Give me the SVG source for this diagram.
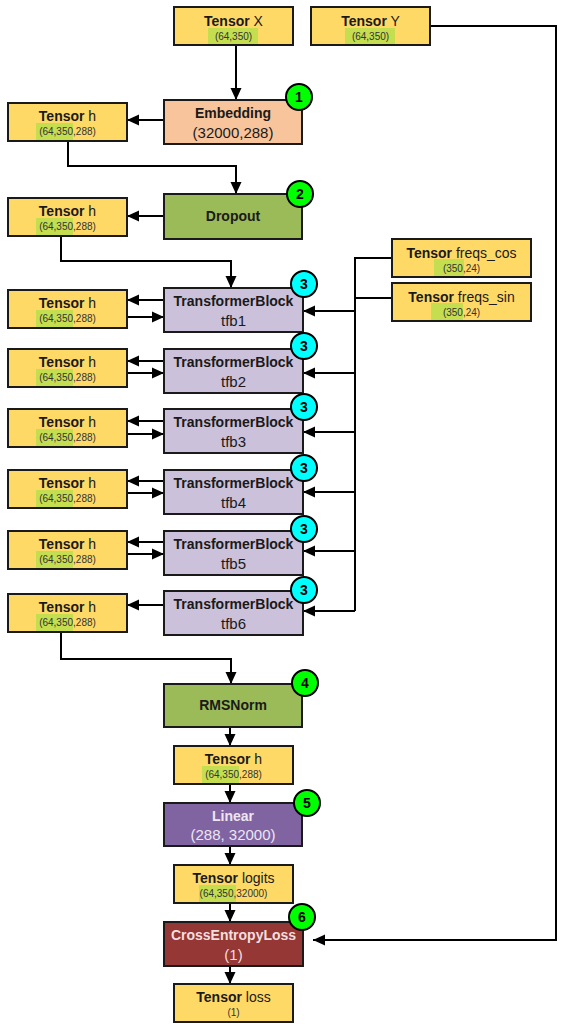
<svg xmlns="http://www.w3.org/2000/svg" width="566" height="1024" viewBox="0 0 566 1024">
<style>
.bg{fill:#fff}
.box{stroke:#1a1a1a;stroke-width:2}
.ten{fill:#FFD966}
.hl{fill:#C4DE4F}
.emb{fill:#F8C49C}
.grn{fill:#9BBB59}
.tb{fill:#CCC1DA}
.lin{fill:#8064A2}
.ce{fill:#953735}
text{font-family:"Liberation Sans",Arial,sans-serif;text-anchor:middle;fill:#1a1a1a}
.t{font-size:14px}
.b{font-weight:bold}
.s{font-size:10px;fill:#333}
.m{font-size:15px}
.lt{fill:#EDE6F2}
.lr{fill:#F4DEDD}
.bc{stroke:#000;stroke-width:2}
.bg1{fill:#00FF00}
.bg2{fill:#00FFFF}
.bt{font-size:14px;font-weight:bold;fill:#000}
.c{fill:none;stroke:#000;stroke-width:2}
</style>
<defs>
<marker id="a" viewBox="0 0 12 12" markerWidth="12" markerHeight="12" refX="12" refY="6" orient="auto" markerUnits="userSpaceOnUse">
<path d="M0,0.5 L12,6 L0,11.5 z" fill="#000"/>
</marker>
</defs>
<rect class="bg" x="0" y="0" width="566" height="1024"/>

<g id="connectors">
<path class="c" d="M236,45 V100" marker-end="url(#a)"/>
<path class="c" d="M430,26 H556 V940 H313" marker-end="url(#a)"/>
<path class="c" d="M164,120 H127" marker-end="url(#a)"/>
<path class="c" d="M68,141 V166 H236 V194" marker-end="url(#a)"/>
<path class="c" d="M164,216 H127" marker-end="url(#a)"/>
<path class="c" d="M61,236 V261 H231 V288" marker-end="url(#a)"/>
<path class="c" d="M164,300 H127" marker-end="url(#a)"/>
<path class="c" d="M127,317 H164" marker-end="url(#a)"/>
<path class="c" d="M164,361 H127" marker-end="url(#a)"/>
<path class="c" d="M127,373 H164" marker-end="url(#a)"/>
<path class="c" d="M164,421 H127" marker-end="url(#a)"/>
<path class="c" d="M127,434 H164" marker-end="url(#a)"/>
<path class="c" d="M164,481 H127" marker-end="url(#a)"/>
<path class="c" d="M127,493 H164" marker-end="url(#a)"/>
<path class="c" d="M164,542 H127" marker-end="url(#a)"/>
<path class="c" d="M127,554 H164" marker-end="url(#a)"/>
<path class="c" d="M164,605 H127" marker-end="url(#a)"/>
<path class="c" d="M392,258 H355 V611"/>
<path class="c" d="M392,298 H355"/>
<path class="c" d="M355,311 H303" marker-end="url(#a)"/>
<path class="c" d="M355,373 H303" marker-end="url(#a)"/>
<path class="c" d="M355,432 H303" marker-end="url(#a)"/>
<path class="c" d="M355,492 H303" marker-end="url(#a)"/>
<path class="c" d="M355,551 H303" marker-end="url(#a)"/>
<path class="c" d="M355,611 H303" marker-end="url(#a)"/>
<path class="c" d="M61,632 V659 H231 V684" marker-end="url(#a)"/>
<path class="c" d="M230,727 V746" marker-end="url(#a)"/>
<path class="c" d="M230,784 V803" marker-end="url(#a)"/>
<path class="c" d="M230,846 V865" marker-end="url(#a)"/>
<path class="c" d="M230,903 V922" marker-end="url(#a)"/>
<path class="c" d="M230,966 V984" marker-end="url(#a)"/>
</g>

<g id="tensorX">
<rect class="box ten" x="174" y="7" width="119" height="38"/>
<rect class="hl" x="208" y="28" width="50" height="16"/>
<text class="t" x="233.5" y="26"><tspan class="b">Tensor</tspan> X</text>
<text class="s" x="233.5" y="40">(64,350)</text>
</g>
<g id="tensorY">
<rect class="box ten" x="311" y="7" width="119" height="38"/>
<rect class="hl" x="345" y="28" width="50" height="16"/>
<text class="t" x="370.5" y="26"><tspan class="b">Tensor</tspan> Y</text>
<text class="s" x="370.5" y="40">(64,350)</text>
</g>

<g id="embedding">
<rect class="box emb" x="164" y="100" width="138" height="44"/>
<text class="t b" x="233" y="118">Embedding</text>
<text class="m" x="233" y="138">(32000,288)</text>
<circle class="bc bg1" cx="299" cy="97" r="13"/>
<text class="bt" x="299" y="102">1</text>
</g>
<g id="h1">
<rect class="box ten" x="8" y="103" width="119" height="38"/>
<rect class="hl" x="36" y="123" width="37" height="17"/>
<text class="t" x="67.5" y="121"><tspan class="b">Tensor</tspan> h</text>
<text class="s" x="67.5" y="135">(64,350,288)</text>
</g>

<g id="dropout">
<rect class="box grn" x="164" y="194" width="138" height="45"/>
<text class="t b" x="233" y="221">Dropout</text>
<circle class="bc bg1" cx="300" cy="194" r="13"/>
<text class="bt" x="300" y="199">2</text>
</g>
<g id="h2">
<rect class="box ten" x="8" y="198" width="119" height="38"/>
<rect class="hl" x="36" y="218" width="37" height="17"/>
<text class="t" x="67.5" y="216"><tspan class="b">Tensor</tspan> h</text>
<text class="s" x="67.5" y="230">(64,350,288)</text>
</g>

<g id="freqs_cos">
<rect class="box ten" x="392" y="239" width="139" height="38"/>
<rect class="hl" x="434" y="259" width="30" height="17"/>
<text class="t" x="461.5" y="258"><tspan class="b">Tensor</tspan> freqs_cos</text>
<text class="s" x="461.5" y="272">(350,24)</text>
</g>
<g id="freqs_sin">
<rect class="box ten" x="392" y="283" width="139" height="38"/>
<rect class="hl" x="431" y="303" width="32" height="17"/>
<text class="t" x="461.5" y="302"><tspan class="b">Tensor</tspan> freqs_sin</text>
<text class="s" x="461.5" y="316">(350,24)</text>
</g>

<g id="tfb1">
<rect class="box tb" x="164" y="288" width="139" height="44"/>
<text class="t b" x="233.5" y="306">TransformerBlock</text>
<text class="m" x="233.5" y="326">tfb1</text>
<circle class="bc bg2" cx="304" cy="284" r="13"/>
<text class="bt" x="304" y="289">3</text>
</g>
<g id="h3">
<rect class="box ten" x="8" y="290" width="119" height="38"/>
<rect class="hl" x="36" y="310" width="37" height="17"/>
<text class="t" x="67.5" y="308"><tspan class="b">Tensor</tspan> h</text>
<text class="s" x="67.5" y="322">(64,350,288)</text>
</g>

<g id="tfb2">
<rect class="box tb" x="164" y="349" width="139" height="44"/>
<text class="t b" x="233.5" y="367">TransformerBlock</text>
<text class="m" x="233.5" y="387">tfb2</text>
<circle class="bc bg2" cx="304" cy="346" r="13"/>
<text class="bt" x="304" y="351">3</text>
</g>
<g id="h4">
<rect class="box ten" x="8" y="349" width="119" height="38"/>
<rect class="hl" x="36" y="369" width="37" height="17"/>
<text class="t" x="67.5" y="367"><tspan class="b">Tensor</tspan> h</text>
<text class="s" x="67.5" y="381">(64,350,288)</text>
</g>

<g id="tfb3">
<rect class="box tb" x="164" y="409" width="139" height="44"/>
<text class="t b" x="233.5" y="427">TransformerBlock</text>
<text class="m" x="233.5" y="447">tfb3</text>
<circle class="bc bg2" cx="304" cy="407" r="13"/>
<text class="bt" x="304" y="412">3</text>
</g>
<g id="h5">
<rect class="box ten" x="8" y="409" width="119" height="38"/>
<rect class="hl" x="36" y="429" width="37" height="17"/>
<text class="t" x="67.5" y="427"><tspan class="b">Tensor</tspan> h</text>
<text class="s" x="67.5" y="441">(64,350,288)</text>
</g>

<g id="tfb4">
<rect class="box tb" x="164" y="470" width="139" height="44"/>
<text class="t b" x="233.5" y="488">TransformerBlock</text>
<text class="m" x="233.5" y="508">tfb4</text>
<circle class="bc bg2" cx="304" cy="468" r="13"/>
<text class="bt" x="304" y="473">3</text>
</g>
<g id="h6">
<rect class="box ten" x="8" y="470" width="119" height="38"/>
<rect class="hl" x="36" y="490" width="37" height="17"/>
<text class="t" x="67.5" y="488"><tspan class="b">Tensor</tspan> h</text>
<text class="s" x="67.5" y="502">(64,350,288)</text>
</g>

<g id="tfb5">
<rect class="box tb" x="164" y="531" width="139" height="44"/>
<text class="t b" x="233.5" y="549">TransformerBlock</text>
<text class="m" x="233.5" y="569">tfb5</text>
<circle class="bc bg2" cx="304" cy="529" r="13"/>
<text class="bt" x="304" y="534">3</text>
</g>
<g id="h7">
<rect class="box ten" x="8" y="531" width="119" height="38"/>
<rect class="hl" x="36" y="551" width="37" height="17"/>
<text class="t" x="67.5" y="549"><tspan class="b">Tensor</tspan> h</text>
<text class="s" x="67.5" y="563">(64,350,288)</text>
</g>

<g id="tfb6">
<rect class="box tb" x="164" y="591" width="139" height="44"/>
<text class="t b" x="233.5" y="609">TransformerBlock</text>
<text class="m" x="233.5" y="629">tfb6</text>
<circle class="bc bg2" cx="304" cy="590" r="13"/>
<text class="bt" x="304" y="595">3</text>
</g>
<g id="h8">
<rect class="box ten" x="8" y="594" width="119" height="38"/>
<rect class="hl" x="36" y="614" width="37" height="17"/>
<text class="t" x="67.5" y="612"><tspan class="b">Tensor</tspan> h</text>
<text class="s" x="67.5" y="626">(64,350,288)</text>
</g>

<g id="rmsnorm">
<rect class="box grn" x="164" y="684" width="138" height="43"/>
<text class="t b" x="233" y="710">RMSNorm</text>
<circle class="bc bg1" cx="305" cy="683" r="13"/>
<text class="bt" x="305" y="688">4</text>
</g>
<g id="h9">
<rect class="box ten" x="174" y="746" width="119" height="38"/>
<rect class="hl" x="202" y="766" width="37" height="17"/>
<text class="t" x="233.5" y="764"><tspan class="b">Tensor</tspan> h</text>
<text class="s" x="233.5" y="778">(64,350,288)</text>
</g>

<g id="linear">
<rect class="box lin" x="164" y="803" width="138" height="43"/>
<text class="t b lt" x="233" y="821">Linear</text>
<text class="m lt" x="233" y="840">(288, 32000)</text>
<circle class="bc bg1" cx="307" cy="803" r="13"/>
<text class="bt" x="307" y="808">5</text>
</g>
<g id="logits">
<rect class="box ten" x="174" y="865" width="119" height="38"/>
<rect class="hl" x="199" y="885" width="37" height="17"/>
<text class="t" x="233.5" y="883"><tspan class="b">Tensor</tspan> logits</text>
<text class="s" x="233.5" y="897">(64,350,32000)</text>
</g>

<g id="crossentropy">
<rect class="box ce" x="164" y="922" width="139" height="44"/>
<text class="t b lr" x="233.5" y="940">CrossEntropyLoss</text>
<text class="m lr" x="233.5" y="960">(1)</text>
<circle class="bc bg1" cx="302" cy="917" r="13"/>
<text class="bt" x="302" y="922">6</text>
</g>
<g id="loss">
<rect class="box ten" x="174" y="984" width="119" height="38"/>
<text class="t" x="233.5" y="1002"><tspan class="b">Tensor</tspan> loss</text>
<text class="s" x="233.5" y="1016">(1)</text>
</g>
</svg>
